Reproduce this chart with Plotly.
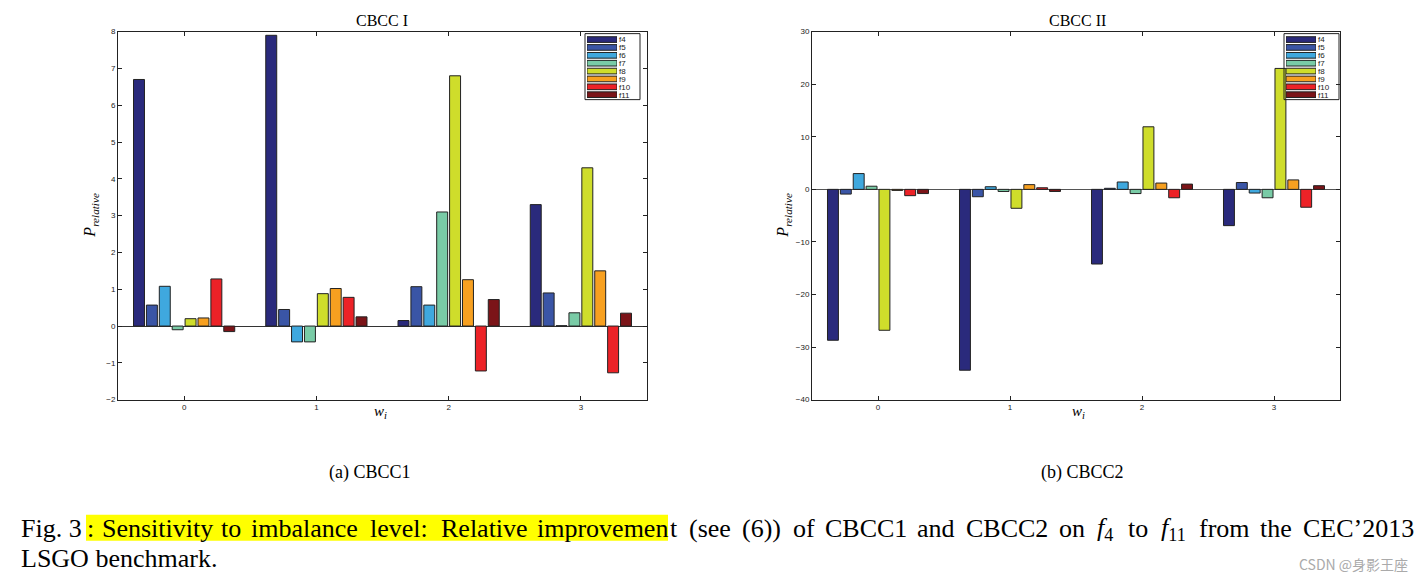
import plotly.graph_objects as go

# datos
funciones = ['f4', 'f5', 'f6', 'f7', 'f8', 'f9', 'f10', 'f11']
colores = ['#2a2a7c', '#3a55a6', '#3fa8de', '#79cba6', '#cfdd2b', '#f7a020', '#ec2227', '#7b1418']
wi = [0, 1, 2, 3]

cbcc1 = {
    'f4': [6.7, 7.9, 0.15, 3.3],
    'f5': [0.57, 0.45, 1.07, 0.9],
    'f6': [1.08, -0.43, 0.57, 0.01],
    'f7': [-0.1, -0.43, 3.1, 0.36],
    'f8': [0.2, 0.88, 6.8, 4.3],
    'f9': [0.22, 1.02, 1.26, 1.5],
    'f10': [1.28, 0.78, -1.22, -1.27],
    'f11': [-0.15, 0.25, 0.72, 0.35],
}
cbcc2 = {
    'f4': [-28.7, -34.4, -14.2, -6.9],
    'f5': [-0.9, -1.4, 0.2, 1.3],
    'f6': [3.0, 0.5, 1.4, -0.7],
    'f7': [0.6, -0.4, -0.8, -1.6],
    'f8': [-26.8, -3.6, 11.9, 23.0],
    'f9': [-0.2, 0.9, 1.2, 1.8],
    'f10': [-1.2, 0.3, -1.6, -3.4],
    'f11': [-0.8, -0.4, 1.0, 0.7],
}
swatch = [1] * len(funciones)

# la pagina tiene 8px de margen, la figura se hace un poco mas chica
OFF = 8
W, H = 1422 - 2 * OFF, 582 - 2 * OFF
def px_x(v):
    return (v - OFF) / W
def px_y(v):
    v = (v - 3.5) / 0.984  # correccion vertical medida en la captura
    return 1 - (v - OFF) / H

fig = go.Figure()

# barras de los dos paneles
for datos, ax in [(cbcc1, ''), (cbcc2, '2')]:
    for f, c in zip(funciones, colores):
        fig.add_trace(go.Bar(x=wi, y=datos[f], name=f, marker_color=c,
                             marker_line=dict(color='#222222', width=1),
                             xaxis='x' + ax, yaxis='y' + ax, showlegend=False))

# leyendas estilo matlab (barras horizontales en ejes pequenos)
for ax in ['3', '4']:
    fig.add_trace(go.Bar(x=swatch, y=funciones, orientation='h',
                         marker_color=colores,
                         marker_line=dict(color='#222222', width=1),
                         xaxis='x' + ax, yaxis='y' + ax, showlegend=False,
                         width=0.72))

tickfont = dict(family='Liberation Sans, Arial', size=8, color='#222')
eje = dict(showline=True, linecolor='#222', linewidth=1, mirror='ticks',
           ticks='inside', ticklen=4, tickcolor='#222', showgrid=False,
           tickfont=tickfont)
ley = dict(autorange='reversed', side='right', showgrid=False, zeroline=False,
           ticks='', tickfont=tickfont, tickmode='array', tickvals=funciones,
           ticklabelstandoff=1)

ydom = [px_y(399), px_y(31)]
fig.update_layout(
    width=W, height=H,
    margin=dict(l=0, r=0, t=0, b=0),
    paper_bgcolor='white', plot_bgcolor='white',
    barmode='group', bargap=0.22, bargroupgap=0.15,
    xaxis=dict(eje, domain=[px_x(118), px_x(647)], range=[-0.5, 3.5],
               tickvals=wi, zeroline=False, anchor='y'),
    yaxis=dict(eje, domain=ydom, range=[-2, 8], dtick=1, zeroline=True,
               zerolinecolor='#333', zerolinewidth=1, anchor='x'),
    xaxis2=dict(eje, domain=[px_x(812), px_x(1340)], range=[-0.5, 3.5],
                tickvals=wi, zeroline=False, anchor='y2'),
    yaxis2=dict(eje, domain=ydom, range=[-40, 30], dtick=10, zeroline=True,
                zerolinecolor='#555', zerolinewidth=1, anchor='x2'),
    xaxis3=dict(domain=[px_x(587), px_x(617)], range=[0, 1], visible=False, anchor='y3'),
    yaxis3=dict(ley, domain=[px_y(98), px_y(35)], anchor='x3'),
    xaxis4=dict(domain=[px_x(1286), px_x(1316)], range=[0, 1], visible=False, anchor='y4'),
    yaxis4=dict(ley, domain=[px_y(98), px_y(35)], anchor='x4'),
    showlegend=False,
)

# marco de las leyendas
for x0, x1 in [(585, 640), (1284, 1339)]:
    fig.add_shape(type='rect', xref='paper', yref='paper',
                  x0=px_x(x0), x1=px_x(x1), y0=px_y(99), y1=px_y(33),
                  line=dict(color='#222', width=1), fillcolor='rgba(0,0,0,0)')

# resaltado amarillo del pie
fig.add_shape(type='rect', xref='paper', yref='paper', layer='below',
              x0=px_x(86), x1=px_x(668), y0=px_y(540), y1=px_y(514),
              line=dict(width=0), fillcolor='#ffff00')

serif = 'Liberation Serif, Times New Roman, serif'
textos = [
    (382, 20, 'CBCC I', 16, 0),
    (1077, 20, 'CBCC II', 16, 0),
    (380, 411, '<i>w<sub>i</sub></i>', 15, 0),
    (1078, 411, '<i>w<sub>i</sub></i>', 15, 0),
    (91, 215, '<i>P<sub>relative</sub></i>', 16, -90),
    (784, 215, '<i>P<sub>relative</sub></i>', 16, -90),
    (370, 472, '(a) CBCC1', 18, 0),
    (1082, 472, '(b) CBCC2', 18, 0),
]
for x, y, t, s, ang in textos:
    fig.add_annotation(x=px_x(x), y=px_y(y), xref='paper', yref='paper', text=t,
                       showarrow=False, textangle=ang, xanchor='center', yanchor='middle',
                       font=dict(family=serif, size=s, color='black'))

# pie de figura, palabra por palabra para imitar el texto justificado
cap = dict(family=serif, size=26, color='black')
linea1 = [
    (20, 'Fig. 3'), (86, ':'), (101, 'Sensitivity'), (220, 'to'),
    (250, 'imbalance'), (369, 'level:'), (440, 'Relative'), (536, 'improvemen'),
    (669, 't'), (688, '(see'), (741, '(6))'), (792, 'of'), (824, 'CBCC1'),
    (916, 'and'), (965, 'CBCC2'), (1058, 'on'), (1096, '<i>f</i><sub>4</sub>'),
    (1127, 'to'), (1160, '<i>f</i><sub>11</sub>'), (1198, 'from'), (1259, 'the'),
    (1302, 'CEC’2013'),
]
for x, t in linea1:
    fig.add_annotation(x=px_x(x), y=px_y(528), xref='paper', yref='paper', text=t,
                       xanchor='left', yanchor='middle', showarrow=False, font=cap,
                       borderpad=0)
fig.add_annotation(x=px_x(20), y=px_y(558), xref='paper', yref='paper',
                   text='LSGO benchmark.', xanchor='left', yanchor='middle',
                   showarrow=False, font=cap, borderpad=0)

fig.add_annotation(x=px_x(1410), y=px_y(563), xref='paper', yref='paper',
                   text='CSDN @身影王座', xanchor='right', yanchor='middle', showarrow=False,
                   font=dict(family='Noto Sans CJK SC', size=14, color='#aaaaaa'))

fig.write_html("out.html")
